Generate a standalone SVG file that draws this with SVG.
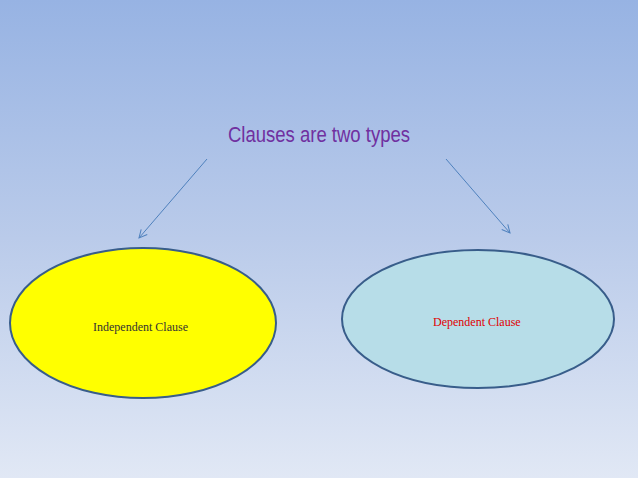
<svg xmlns="http://www.w3.org/2000/svg" width="638" height="478" viewBox="0 0 638 478">
<defs>
<linearGradient id="bg" x1="0" y1="0" x2="0" y2="1">
<stop offset="0" stop-color="#97B3E3"/><stop offset="0.5" stop-color="#BACBEA"/><stop offset="1" stop-color="#E1E8F5"/>
</linearGradient>
<marker id="ah" markerWidth="10" markerHeight="10" refX="9" refY="5" orient="auto" markerUnits="userSpaceOnUse">
<path d="M1,1 L9,5 L1,9" fill="none" stroke="#4F81BD" stroke-width="1"/>
</marker>
<style>
.n{stroke:#385D8A;stroke-width:2}
.c{stroke:#4F81BD;stroke-width:1;fill:none;marker-end:url(#ah)}
.t{font-family:"Liberation Serif",serif;font-size:12px}
</style>
</defs>
<rect width="638" height="478" fill="url(#bg)"/>
<g id="title"><text x="228" y="142" font-family="Liberation Sans Narrow,Liberation Sans,sans-serif" font-size="22" fill="#7030A0" textLength="182" lengthAdjust="spacingAndGlyphs">Clauses are two types</text></g>
<g id="connectors">
<line class="c" x1="207" y1="159" x2="139" y2="238"/>
<line class="c" x1="446" y1="159" x2="510" y2="233"/>
</g>
<g id="independent"><ellipse class="n" cx="143" cy="323" rx="133" ry="75" fill="#FFFF00"/><text class="t" x="93" y="331" fill="#333">Independent  Clause</text></g>
<g id="dependent"><ellipse class="n" cx="478" cy="319" rx="136" ry="69" fill="#B7DDE8"/><text class="t" x="433" y="326" fill="#E00000">Dependent Clause</text></g>
</svg>
